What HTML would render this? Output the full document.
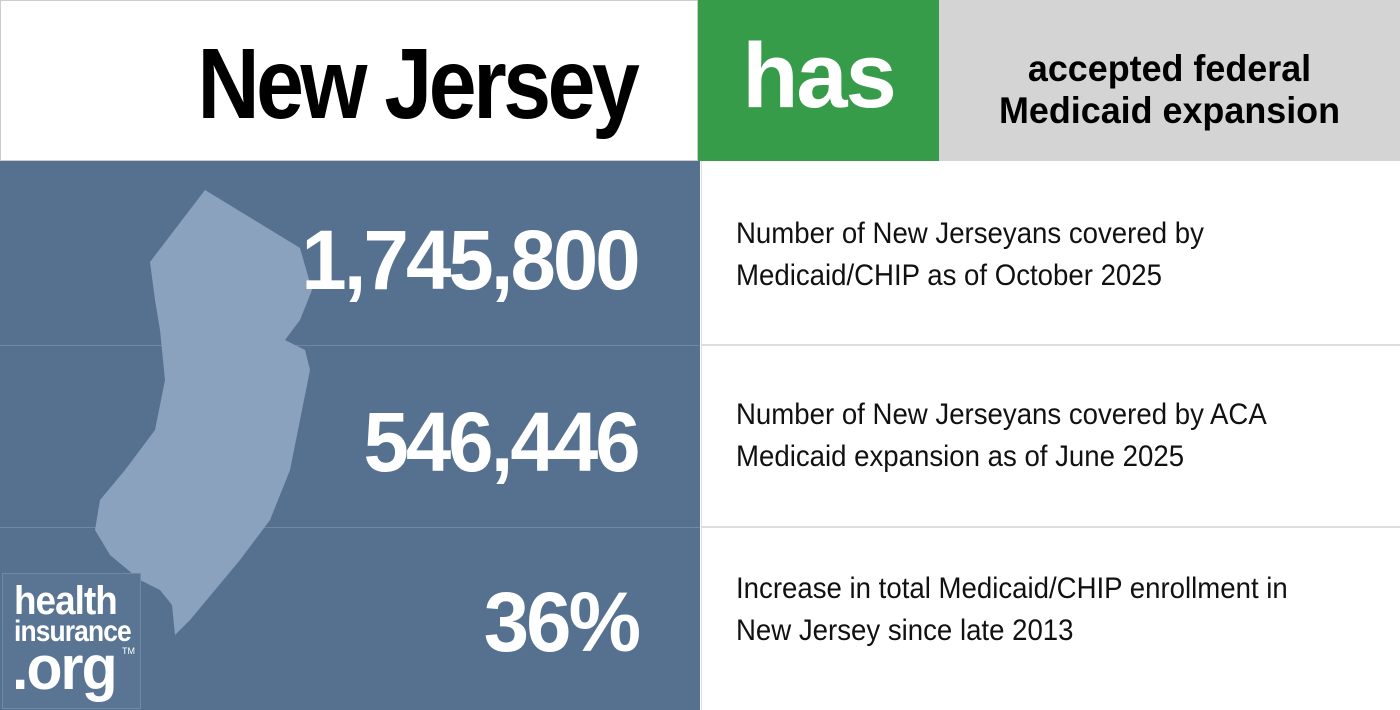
<!DOCTYPE html>
<html><head><style>
body{margin:0;width:1400px;height:710px;position:relative;background:#fff;font-family:"Liberation Sans",sans-serif;overflow:hidden}
div{position:absolute;box-sizing:border-box}
.t{font-weight:bold;white-space:nowrap}
.num{right:762px;color:#fff;font-weight:bold;font-size:84px;letter-spacing:-3px;text-align:right;line-height:1;transform:scaleX(0.97);transform-origin:right}
.cell{left:701px;width:699px;border-bottom:2px solid #ddd;border-left:1px solid #ddd}
.cell span{position:absolute;left:34px;font-size:30px;color:#111;line-height:42px;white-space:nowrap;transform:scaleX(0.92);transform-origin:left}
</style></head><body>
<div style="left:0;top:0;width:698px;height:161px;border:1px solid #ccc;background:#fff"></div>
<div class="t" style="right:764px;top:34px;font-size:100px;letter-spacing:-4px;line-height:1;color:#000;transform:scaleX(0.86);transform-origin:right">New Jersey</div>
<div style="left:698px;top:0;width:241px;height:161px;background:#379c4a"></div>
<div class="t" style="left:698px;width:241px;top:30px;font-size:92px;color:#fff;text-align:center;line-height:1;letter-spacing:-2px">has</div>
<div style="left:939px;top:0;width:461px;height:161px;background:#d4d4d4"></div>
<div class="t" style="left:939px;width:461px;top:48px;font-size:37px;text-align:center;line-height:42px;color:#000;transform:scaleX(0.97)">accepted federal<br>Medicaid expansion</div>
<div style="left:0;top:161px;width:700px;height:549px;background:#56718f"></div>
<div style="left:0;top:345px;width:700px;height:1px;background:#6f88a3"></div>
<div style="left:0;top:527px;width:700px;height:1px;background:#6f88a3"></div>
<svg style="position:absolute;left:0;top:0" width="700" height="710"><polygon fill="#8aa2bd" points="205,190 300,248 312,290 300,320 285,340 305,350 310,370 300,420 290,470 270,520 240,560 215,590 190,620 175,635 172,605 160,590 140,580 110,555 95,530 100,500 125,470 155,430 165,380 160,330 155,300 150,262"/></svg>
<div class="num" style="top:218px">1,745,800</div>
<div class="num" style="top:400px">546,446</div>
<div class="num" style="top:580px">36%</div>
<div style="left:2px;top:573px;width:139px;height:136px;background:#5a7594;border:1px solid #6f88a3"></div>
<div class="t" style="left:14px;top:584px;color:#fff;font-size:40px;line-height:34px;letter-spacing:-1px;transform:scaleX(0.92);transform-origin:left">health</div>
<div class="t" style="left:14px;top:618px;color:#fff;font-size:30px;line-height:28px;letter-spacing:-1px;transform:scaleX(0.88);transform-origin:left">insurance</div>
<div class="t" style="left:12px;top:638px;color:#fff;font-size:62px;line-height:62px;letter-spacing:-2px;transform:scaleX(0.95);transform-origin:left">.org</div>
<div style="left:122px;top:646px;color:#fff;font-size:9px">TM</div>
<div class="cell" style="top:161px;height:185px"><span style="top:52px">Number of New Jerseyans covered by<br>Medicaid/CHIP as of October 2025</span></div>
<div class="cell" style="top:346px;height:182px"><span style="top:48px">Number of New Jerseyans covered by ACA<br>Medicaid expansion as of June 2025</span></div>
<div class="cell" style="top:528px;height:182px;border-bottom:none"><span style="top:40px">Increase in total Medicaid/CHIP enrollment in<br>New Jersey since late 2013</span></div>
</body></html>
